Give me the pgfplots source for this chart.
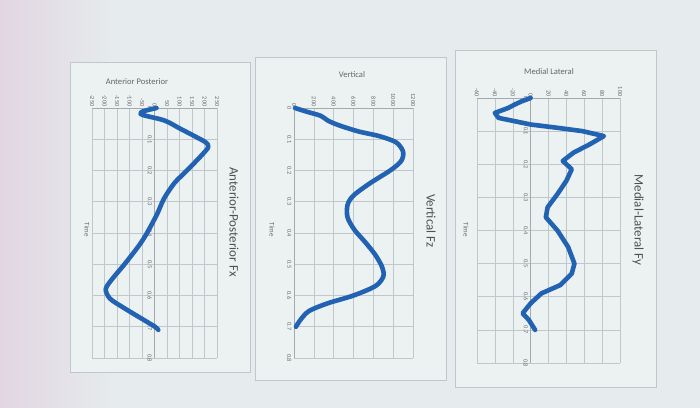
\documentclass[border=0pt]{standalone}
\usepackage{pgfplots}
\pgfplotsset{compat=1.18}
\usepackage{fontspec}
\setmainfont{Carlito}
\definecolor{curve}{RGB}{34,98,178}
\definecolor{bg}{RGB}{230,236,237}
\definecolor{panelc}{RGB}{236,241,241}
\definecolor{gridc}{RGB}{192,199,202}
\definecolor{txt}{RGB}{100,104,108}
\definecolor{titlec}{RGB}{78,80,84}
\pgfplotsset{
  panel/.style={
    scale only axis, anchor=north west,
    axis lines=middle, axis line style={-, draw=gridc!85!black, line width=0.6bp},
    y dir=reverse, ymin=0, ymax=0.8,
    ytick={0,0.1,0.2,0.3,0.4,0.5,0.6,0.7,0.8},
    grid=major, major grid style={gridc, line width=0.5bp},
    major tick length=0pt,
    hide obscured x ticks=false, hide obscured y ticks=false,
    tick label style={font=\fontsize{6.2}{7}\selectfont, text=txt},
    xticklabel style={rotate=-90, anchor=east, inner sep=1.5bp},
    yticklabel style={rotate=-90, anchor=north, inner sep=2.5bp},
    /pgf/number format/assume math mode=true,
    /pgf/number format/1000 sep={},
    clip=false,
  },
  fcurve/.style={curve, line width=4.6bp, line join=round, line cap=round, no markers},
}
\begin{document}
\begin{tikzpicture}
\useasboundingbox (0,0) rectangle (700bp,408bp);
\fill[bg] (0,0) rectangle (700bp,408bp);
\shade[left color={rgb,255:red,226;green,214;blue,226}, right color=bg] (0,0) rectangle (120bp,408bp);
% panels
\draw[gridc, line width=0.6bp, fill=panelc] (70bp,36bp) rectangle (250bp,346bp);
\draw[gridc, line width=0.6bp, fill=panelc] (255bp,28bp) rectangle (446bp,351bp);
\draw[gridc, line width=0.6bp, fill=panelc] (455bp,21bp) rectangle (656bp,358bp);

% Anterior-Posterior Fx
\begin{axis}[panel, at={(92bp,300bp)}, width=125bp, height=250bp,
  xmin=-250, xmax=250, xtick={-250,-200,...,250}]
\addplot[fcurve, smooth] coordinates {
(8,0) (-50,0.012) (-48,0.022) (40,0.04) (100,0.065) (160,0.09) (205,0.11)
(215,0.125) (190,0.15) (130,0.2) (80,0.24) (38,0.29) (10,0.34) (-30,0.4)
(-62,0.44) (-120,0.5) (-172,0.55) (-195,0.58) (-178,0.61) (-122,0.64)
(-60,0.67) (2,0.7) (15,0.71)};
\end{axis}

% Vertical Fz
\begin{axis}[panel, at={(294bp,300bp)}, width=119bp, height=250bp,
  xmin=0, xmax=1200, xtick={0,200,...,1200}]
\addplot[fcurve, smooth] coordinates {
(10,0) (130,0.012) (270,0.025) (340,0.04) (450,0.055) (650,0.075) (860,0.09)
(1030,0.11) (1100,0.14) (1080,0.17) (970,0.2) (770,0.24) (600,0.28)
(540,0.31) (540,0.35) (610,0.39) (720,0.43) (820,0.47) (890,0.51) (900,0.54)
(820,0.57) (600,0.6) (340,0.625) (150,0.65) (60,0.68) (20,0.7)};
\end{axis}

% Medial-Lateral Fy
\begin{axis}[panel, at={(477bp,310bp)}, width=143bp, height=265bp,
  xmin=-60, xmax=100, xtick={-60,-40,...,100}]
\addplot[fcurve] coordinates {
(0,0) (-10,0.01) (-18,0.02) (-25,0.03) (-40,0.045) (-36,0.06) (0,0.08)
(30,0.09) (58,0.1) (82,0.115) (66,0.14) (48,0.165) (36,0.19) (46,0.215)
(40,0.25) (30,0.29) (19,0.33) (17,0.36) (30,0.4) (42,0.45) (49,0.5)
(46,0.53) (33,0.565) (12,0.59) (0,0.62) (-9,0.65) (-2,0.67) (5,0.7)};
\end{axis}

% titles and labels
\node[rotate=-90, font=\fontsize{13}{15}\selectfont, text=titlec] at (234bp,186bp) {Anterior-Posterior Fx};
\node[rotate=-90, font=\fontsize{13}{15}\selectfont, text=titlec] at (431bp,187bp) {Vertical Fz};
\node[rotate=-90, font=\fontsize{13}{15}\selectfont, text=titlec] at (638bp,188bp) {Medial-Lateral Fy};
\node[font=\fontsize{8.6}{10}\selectfont, text=txt] at (137bp,326bp) {Anterior Posterior};
\node[font=\fontsize{8.6}{10}\selectfont, text=txt] at (352bp,333bp) {Vertical};
\node[font=\fontsize{8.6}{10}\selectfont, text=txt] at (549bp,336bp) {Medial Lateral};
\node[rotate=-90, font=\fontsize{7}{8}\selectfont, text=txt] at (87bp,178bp) {Time};
\node[rotate=-90, font=\fontsize{7}{8}\selectfont, text=txt] at (272bp,178bp) {Time};
\node[rotate=-90, font=\fontsize{7}{8}\selectfont, text=txt] at (466bp,178bp) {Time};
\end{tikzpicture}
\end{document}
